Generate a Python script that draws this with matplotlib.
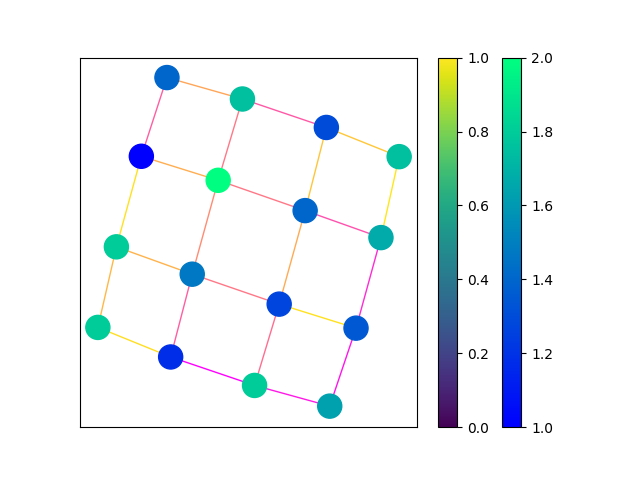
import matplotlib
matplotlib.use("Agg")
import matplotlib.pyplot as plt
from matplotlib import cm, colors
from matplotlib.collections import LineCollection

# 4x4 grid graph, node layout positions (row-major)
node_x = [0.258, 0.482, 0.731, 0.947,
          0.182, 0.410, 0.668, 0.893,
          0.108, 0.333, 0.591, 0.819,
          0.053, 0.269, 0.518, 0.741]
node_y = [0.946, 0.888, 0.811, 0.732,
          0.733, 0.668, 0.586, 0.513,
          0.488, 0.414, 0.333, 0.268,
          0.270, 0.190, 0.113, 0.057]
node_values = [1.40, 1.75, 1.30, 1.75,
               1.00, 2.00, 1.40, 1.67,
               1.80, 1.47, 1.27, 1.35,
               1.80, 1.18, 1.80, 1.63]

edges = [(0, 1), (1, 2), (2, 3),
         (4, 5), (5, 6), (6, 7),
         (8, 9), (9, 10), (10, 11),
         (12, 13), (13, 14), (14, 15),
         (0, 4), (4, 8), (8, 12),
         (1, 5), (5, 9), (9, 13),
         (2, 6), (6, 10), (10, 14),
         (3, 7), (7, 11), (11, 15)]
edge_values = [0.65, 0.35, 0.78,
               0.68, 0.47, 0.32,
               0.70, 0.47, 0.88,
               0.87, 0.00, 0.10,
               0.37, 0.88, 0.72,
               0.47, 0.55, 0.37,
               0.77, 0.67, 0.43,
               0.90, 0.17, 0.08]

fig = plt.figure(figsize=(6.4, 4.8), dpi=100)
ax = fig.add_axes([0.125, 0.11, 0.5266, 0.77])
cax1 = fig.add_axes([0.6848, 0.11, 0.0297, 0.77])
cax2 = fig.add_axes([0.7848, 0.11, 0.0297, 0.77])

segs = [[(node_x[a], node_y[a]), (node_x[b], node_y[b])] for a, b in edges]
lc = LineCollection(segs, cmap="spring", norm=colors.Normalize(0, 1), linewidths=1.0, zorder=1)
lc.set_array(edge_values)
ax.add_collection(lc)

nodes = ax.scatter(node_x, node_y, c=node_values, s=300, cmap="winter",
                   vmin=1, vmax=2, zorder=2)

ax.set_xlim(0, 1)
ax.set_ylim(0, 1)
ax.set_xticks([])
ax.set_yticks([])

sm = cm.ScalarMappable(cmap="viridis", norm=colors.Normalize(0, 1))
fig.colorbar(sm, cax=cax1)
fig.colorbar(nodes, cax=cax2)

fig.savefig("out.png", dpi=100)
